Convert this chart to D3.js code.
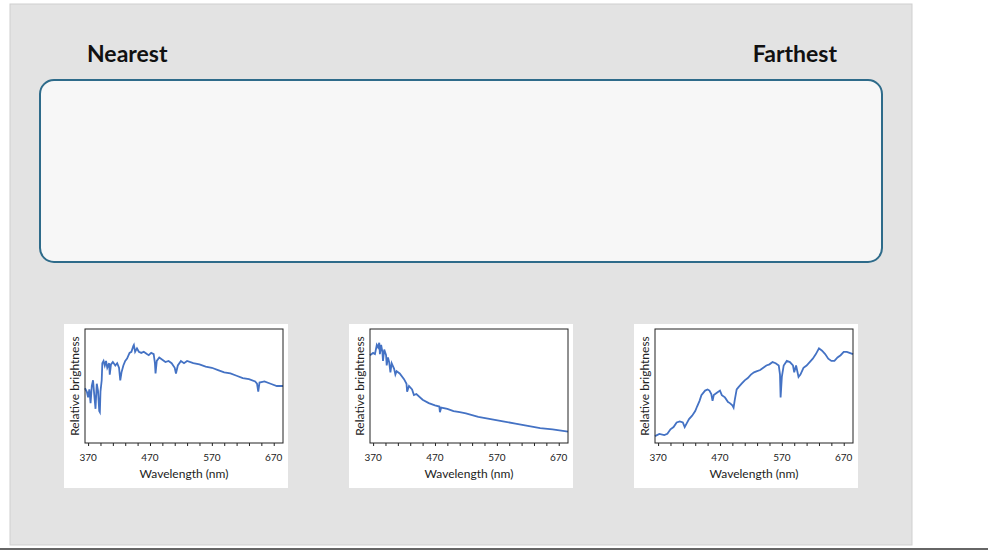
<!DOCTYPE html><html><head><meta charset="utf-8">
<script src="https://cdn.jsdelivr.net/npm/d3@7"></script>
<style>body{margin:0;background:#fff}</style></head><body><svg id="c" width="988" height="553"></svg>
<script>
const panelTitles=["Nearest","Farthest"];
const tickLabels=[370,470,570,670];
const xLabel="Wavelength (nm)", yLabel="Relative brightness";
const spectrum1=[[365,48],[368,45],[370,40],[372,47],[374,35],[376,50],[378,55],[380,42],[382,30],[384,52],[386,46],[388,28],[389,27],[390,45],[392,55],[393,70],[395,72],[397,68],[399,72],[401,66],[404,70],[405,60],[407,69],[410,71],[414,68],[417,70],[420,66],[422,55],[424,62],[427,68],[430,72],[433,74],[437,79],[440,80],[443,85],[444,86],[446,80],[449,83],[452,80],[456,79],[460,80],[465,78],[468,77],[472,79],[476,78],[478,70],[479,61],[481,72],[485,75],[490,73],[495,71],[500,72],[505,70],[510,66],[512,61],[515,68],[520,72],[525,70],[530,72],[540,70],[550,69],[560,67],[570,66],[580,64],[590,62],[600,61],[610,59],[620,57],[630,56],[640,54],[643,52],[645,45],[647,53],[655,54],[665,52],[675,50],[685,50]];
const spectrum2=[[365,77],[370,79],[373,78],[376,86],[378,84],[380,88],[381,78],[383,86],[385,80],[386,72],[388,82],[391,77],[392,68],[394,75],[396,71],[398,62],[400,70],[404,65],[406,60],[408,63],[413,61],[420,56],[424,52],[425,45],[428,50],[433,47],[436,42],[440,43],[450,38],[460,35],[470,33],[477,32],[478,27],[480,31],[490,30],[500,28],[510,27],[520,26],[540,23],[560,21],[580,19],[600,17],[620,15],[640,13],[660,12],[685,10]];
const spectrum3=[[365,6],[372,8],[380,7],[385,8],[390,12],[395,14],[400,18],[405,19],[410,18],[413,14],[416,17],[420,21],[425,24],[430,28],[433,32],[437,37],[440,42],[443,44],[446,46],[450,47],[453,46],[456,43],[458,37],[460,42],[465,44],[470,46],[473,42],[478,40],[483,36],[486,35],[490,33],[492,31],[494,38],[497,47],[500,49],[505,52],[510,55],[515,57],[520,60],[525,62],[530,63],[535,64],[540,66],[545,68],[550,69],[555,71],[560,70],[565,68],[567,60],[568,40],[570,58],[573,68],[578,72],[583,71],[588,68],[590,62],[593,68],[597,58],[600,60],[605,66],[610,68],[615,71],[620,74],[625,78],[630,83],[635,81],[640,78],[645,74],[650,72],[655,72],[660,75],[665,77],[670,80],[675,80],[685,78]];
const spectra=[spectrum1,spectrum2,spectrum3];
const svg=d3.select("#c");
const F="Lato,'Open Sans',sans-serif";
svg.append("rect").attr("x",10).attr("y",4).attr("width",902).attr("height",541).attr("fill","#e3e3e3").attr("stroke","#cfcfcf");
svg.append("line").attr("x1",0).attr("x2",988).attr("y1",549).attr("y2",549).attr("stroke","#333").attr("stroke-width",1.5);
svg.append("text").attr("x",87).attr("y",62).text(panelTitles[0]).attr("font-family",F).attr("font-weight","bold").attr("font-size",23).attr("fill","#111");
svg.append("text").attr("x",837).attr("y",62).attr("text-anchor","end").text(panelTitles[1]).attr("font-family",F).attr("font-weight","bold").attr("font-size",23).attr("fill","#111");
svg.append("rect").attr("x",40).attr("y",80).attr("width",842).attr("height",182).attr("rx",14).attr("fill","#f7f7f7").attr("stroke","#2e6b8a").attr("stroke-width",2);
spectra.forEach((data,i)=>{
  const ox=64+i*285, oy=324;
  const g=svg.append("g").attr("transform",`translate(${ox},${oy})`);
  g.append("rect").attr("width",224).attr("height",164).attr("fill","#fff");
  const x=d3.scaleLinear().domain([365,685]).range([21,219]);
  const y=d3.scaleLinear().domain([0,100]).range([119,5]);
  g.append("path").datum(data).attr("d",d3.line().x(d=>x(d[0])).y(d=>y(d[1]))).attr("fill","none").attr("stroke","#4472c4").attr("stroke-width",1.8);
  g.append("rect").attr("x",21).attr("y",5).attr("width",198).attr("height",114).attr("fill","none").attr("stroke","#222").attr("stroke-width",1);
  const ax=g.append("g").attr("transform","translate(0,119)").call(d3.axisBottom(x).tickValues(d3.range(370,686,20)).tickSize(3).tickFormat(""));
  ax.select(".domain").remove();
  ax.selectAll("line").attr("stroke","#222");
  g.selectAll(".tl").data(tickLabels).join("text").attr("x",d=>x(d)).attr("y",137).attr("text-anchor","middle").text(d=>d).attr("font-family",F).attr("font-size",10).attr("fill","#222");
  g.append("text").attr("x",120).attr("y",154).attr("text-anchor","middle").text(xLabel).attr("font-family",F).attr("font-size",12).attr("fill","#222");
  g.append("text").attr("transform","translate(15,62) rotate(-90)").attr("text-anchor","middle").text(yLabel).attr("font-family",F).attr("font-size",12).attr("fill","#222");
});
</script></body></html>
